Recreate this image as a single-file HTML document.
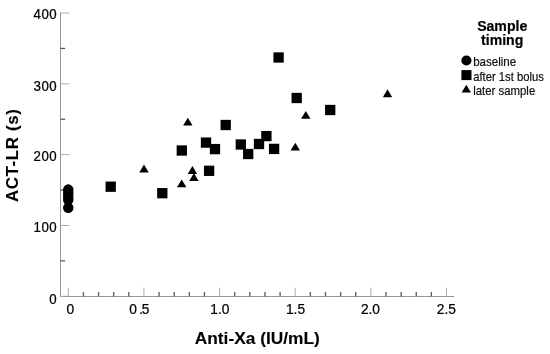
<!DOCTYPE html>
<html lang="en"><head><meta charset="utf-8"><title>ACT-LR vs Anti-Xa</title>
<style>html,body{margin:0;padding:0;background:#fff;overflow:hidden}svg{display:block}</style>
</head><body>
<svg width="550" height="354" viewBox="0 0 550 354">
<rect width="550" height="354" fill="#fff"/>
<g stroke="#979797" stroke-width="1" fill="none">
<path d="M60.5 12.52V296.5H454.2"/>
</g>
<g stroke="#a4a4a4" stroke-width="0.9">
<path d="M60.5 296.30h9"/>
<path d="M60.5 225.48h9"/>
<path d="M60.5 154.66h9"/>
<path d="M60.5 83.84h9"/>
<path d="M60.5 13.02h9"/>
<path d="M68.30 296.5v-8.8"/>
<path d="M143.94 296.5v-8.8"/>
<path d="M219.58 296.5v-8.8"/>
<path d="M295.22 296.5v-8.8"/>
<path d="M370.86 296.5v-8.8"/>
<path d="M446.50 296.5v-8.8"/>
</g>
<g stroke="#585858" stroke-width="1.3">
<path d="M60.5 260.89h4.6"/>
<path d="M60.5 190.07h4.6"/>
<path d="M60.5 119.25h4.6"/>
<path d="M60.5 48.43h4.6"/>
<path d="M83.43 296.5v-4.4"/>
<path d="M98.56 296.5v-4.4"/>
<path d="M113.68 296.5v-4.4"/>
<path d="M128.81 296.5v-4.4"/>
<path d="M159.07 296.5v-4.4"/>
<path d="M174.20 296.5v-4.4"/>
<path d="M189.32 296.5v-4.4"/>
<path d="M204.45 296.5v-4.4"/>
<path d="M234.71 296.5v-4.4"/>
<path d="M249.84 296.5v-4.4"/>
<path d="M264.96 296.5v-4.4"/>
<path d="M280.09 296.5v-4.4"/>
<path d="M310.35 296.5v-4.4"/>
<path d="M325.48 296.5v-4.4"/>
<path d="M340.60 296.5v-4.4"/>
<path d="M355.73 296.5v-4.4"/>
<path d="M385.99 296.5v-4.4"/>
<path d="M401.12 296.5v-4.4"/>
<path d="M416.24 296.5v-4.4"/>
<path d="M431.37 296.5v-4.4"/>
</g>
<g font-family="'Liberation Sans', Arial, sans-serif" font-size="13.9" fill="#000" stroke="#000" stroke-width="0.25">
<text transform="translate(33.41 19.2) scale(0.955 1)" letter-spacing="0.628">400</text>
<text transform="translate(33.41 90.6) scale(0.955 1)" letter-spacing="0.628">300</text>
<text transform="translate(33.41 161.1) scale(0.955 1)" letter-spacing="0.628">200</text>
<text transform="translate(33.41 232.3) scale(0.955 1)" letter-spacing="0.628">100</text>
<text transform="translate(49.37 303.7) scale(0.955 1)" letter-spacing="0.628">0</text>
</g>
<g font-family="'Liberation Sans', Arial, sans-serif" font-size="14.2" fill="#000" stroke="#000" stroke-width="0.25">
<text transform="translate(70.30 313.5) scale(0.97 1)" text-anchor="middle">0</text>
<text transform="translate(219.90 313.5) scale(0.97 1)" text-anchor="middle">1.0</text>
<text transform="translate(295.50 313.5) scale(0.97 1)" text-anchor="middle">1.5</text>
<text transform="translate(370.45 313.5) scale(0.97 1)" text-anchor="middle">2.0</text>
<text transform="translate(446.30 313.5) scale(0.97 1)" text-anchor="middle">2.5</text>
<text transform="translate(129.2 313.5) scale(0.97 1)" x="0 10.10 12.84">0.5</text>
</g>
<g font-family="'Liberation Sans', Arial, sans-serif" font-weight="bold" font-size="16.2" fill="#000" stroke="#000" stroke-width="0.1">
<text transform="translate(257.3 343.8) scale(1.07 1)" text-anchor="middle">Anti-Xa (IU/mL)</text>
<text transform="translate(17.8 155.3) rotate(-90) scale(1.045 1)" text-anchor="middle" letter-spacing="0.6">ACT-LR (s)</text>
</g>
<g fill="#000">
<circle cx="68.25" cy="189.6" r="5.25"/>
<circle cx="68.25" cy="193" r="5.25"/>
<circle cx="68.25" cy="196.5" r="5.25"/>
<circle cx="68.25" cy="199.8" r="5.25"/>
<circle cx="68.25" cy="207.8" r="5.25"/>
<rect x="105.55" y="181.55" width="10.3" height="10.3"/>
<rect x="157.15" y="188.05" width="10.3" height="10.3"/>
<rect x="176.65" y="145.35" width="10.3" height="10.3"/>
<rect x="200.85" y="137.45" width="10.3" height="10.3"/>
<rect x="209.85" y="143.95" width="10.3" height="10.3"/>
<rect x="220.55" y="119.85" width="10.3" height="10.3"/>
<rect x="203.95" y="165.65" width="10.3" height="10.3"/>
<rect x="235.65" y="139.35" width="10.3" height="10.3"/>
<rect x="243.05" y="148.85" width="10.3" height="10.3"/>
<rect x="253.85" y="138.85" width="10.3" height="10.3"/>
<rect x="261.25" y="130.95" width="10.3" height="10.3"/>
<rect x="268.95" y="143.75" width="10.3" height="10.3"/>
<rect x="273.45" y="52.35" width="10.3" height="10.3"/>
<rect x="291.55" y="92.85" width="10.3" height="10.3"/>
<rect x="325.05" y="104.85" width="10.3" height="10.3"/>
<path d="M144.00 164.50l4.70 7.9h-9.4z"/>
<path d="M187.80 117.70l4.70 7.9h-9.4z"/>
<path d="M181.70 179.40l4.70 7.9h-9.4z"/>
<path d="M192.40 166.10l4.70 7.9h-9.4z"/>
<path d="M193.90 173.00l4.70 7.9h-9.4z"/>
<path d="M295.30 142.70l4.70 7.9h-9.4z"/>
<path d="M305.80 110.90l4.70 7.9h-9.4z"/>
<path d="M387.50 89.30l4.70 7.9h-9.4z"/>
<circle cx="466.4" cy="60.5" r="5.1"/>
<rect x="461.4" y="70.1" width="10.1" height="10"/>
<path d="M466.30 84.70l4.70 7.9h-9.4z"/>
</g>
<g font-family="'Liberation Sans', Arial, sans-serif" font-weight="bold" font-size="14.1" fill="#000" stroke="#000" stroke-width="0.2" text-anchor="middle">
<text x="502.2" y="30.7">Sample</text>
<text x="502.2" y="45.2">timing</text>
</g>
<g font-family="'Liberation Sans', Arial, sans-serif" font-size="11.9" fill="#111" stroke="#111" stroke-width="0.2">
<text transform="translate(473.2 65.6) scale(0.97 1)">baseline</text>
<text transform="translate(473.2 80.5) scale(0.946 1)">after 1st bolus</text>
<text transform="translate(473.2 95.0) scale(0.958 1)">later sample</text>
</g>
</svg>
</body></html>
